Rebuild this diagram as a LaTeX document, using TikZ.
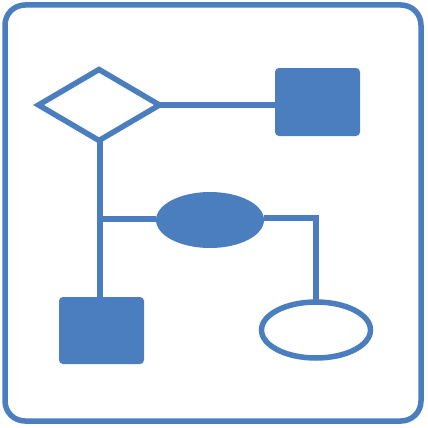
\documentclass[tikz,border=0pt]{standalone}
\usetikzlibrary{shapes.geometric}
\definecolor{bl}{RGB}{75,126,190}
\begin{document}
\begin{tikzpicture}[x=1pt,y=-1pt,
  ln/.style={draw=bl,line width=5.5pt},
  blk/.style={fill=bl,draw=none,rounded corners=4pt,inner sep=0,outer sep=0,minimum width=85pt},
  dia/.style={diamond,ln,fill=white,inner sep=0,outer sep=0,minimum width=121pt,minimum height=71pt},
  ell/.style={ellipse,inner sep=0,outer sep=0}]
\useasboundingbox (0,0) rectangle (428,428);
\node[draw=bl,line width=5.5pt,rounded corners=20pt,minimum width=416pt,minimum height=416pt,inner sep=0] (frame) at (213,213) {};
\node[dia] (d) at (99,105) {};
\node[blk,minimum height=68pt] (s1) at (317.5,102) {};
\node[blk,minimum height=67pt] (s2) at (101.5,330.5) {};
\node[ell,fill=bl,minimum width=108pt,minimum height=56pt] (e1) at (210,220) {};
\node[ell,ln,fill=white,minimum width=109pt,minimum height=56pt] (e2) at (316,330) {};
\coordinate (j) at (100,219);
\draw[ln] (d.east) -- (d.east -| s1.west);
\draw[ln] (d.south) -- (d.south -| 100,0) |- (s2.north);
\draw[ln] (j) -- (j -| e1.west);
\draw[ln] (e1.east |- 0,218) -| (e2.north);
\end{tikzpicture}
\end{document}
